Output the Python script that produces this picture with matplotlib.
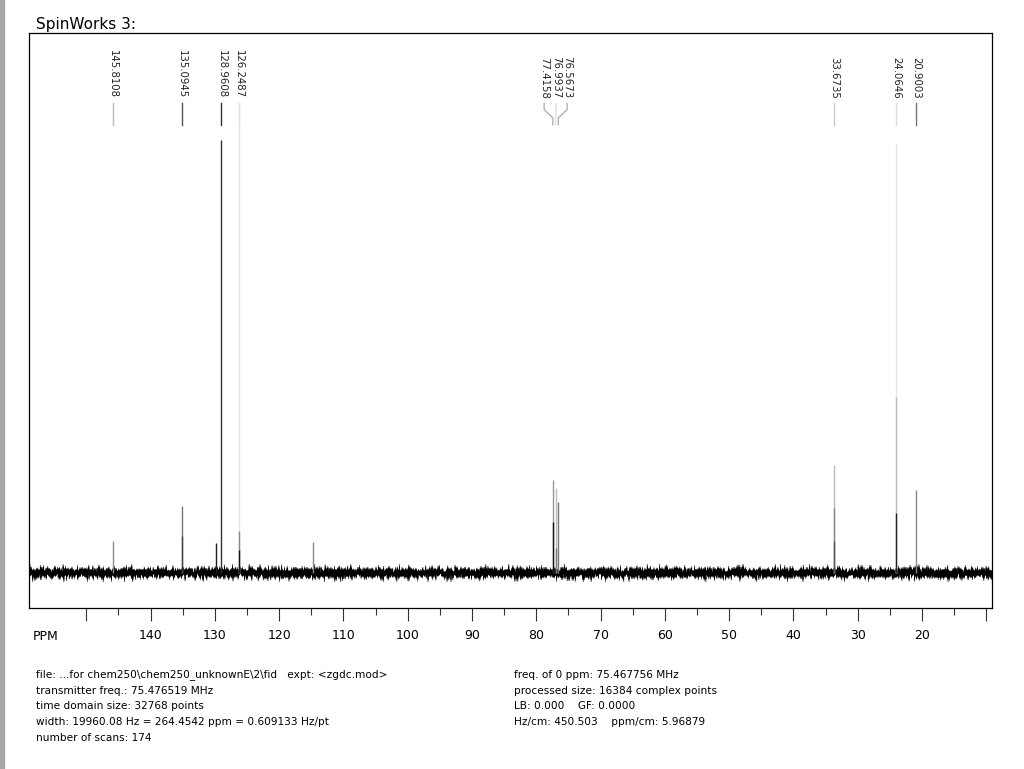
import numpy as np
import matplotlib
matplotlib.use("Agg")
import matplotlib.pyplot as plt
from matplotlib.patches import Rectangle

# peak positions (ppm) and heights (arbitrary intensity, tallest ~100)
peak_ppm = [145.81, 135.09, 129.80, 128.96, 126.25, 114.70,
            77.42, 76.99, 76.57, 33.67, 24.06, 20.90]
peak_height = [7.4, 15.5, 6.9, 100.0, 108.5, 7.2,
               21.5, 19.6, 16.4, 24.9, 99.3, 19.2]

# labelled peaks (text shown at top of the plot)
label_text = ["145.8108", "135.0945", "128.9608", "126.2487",
              "77.4158", "76.9937", "76.5673",
              "33.6735", "24.0646", "20.9003"]
label_ppm = [145.8108, 135.0945, 128.9608, 126.2487,
             77.4158, 76.9937, 76.5673,
             33.6735, 24.0646, 20.9003]
# where the text sits (the triplet is spread apart)
label_text_ppm = [145.8108, 135.0945, 128.9608, 126.2487,
                  78.77, 76.90, 75.19,
                  33.6735, 24.0646, 20.9003]

major_ticks = list(range(10, 151, 10))
minor_ticks = list(range(15, 146, 10))
tick_labels = ["" if t in (10, 150) else str(t) for t in major_ticks]

footer_left = ["file: ...for chem250\\chem250_unknownE\\2\\fid   expt: <zgdc.mod>",
               "transmitter freq.: 75.476519 MHz",
               "time domain size: 32768 points",
               "width: 19960.08 Hz = 264.4542 ppm = 0.609133 Hz/pt",
               "number of scans: 174"]
footer_right = ["freq. of 0 ppm: 75.467756 MHz",
                "processed size: 16384 complex points",
                "LB: 0.000    GF: 0.0000",
                "Hz/cm: 450.503    ppm/cm: 5.96879"]

# shading of each peak line: (height fraction, colour) drawn tallest first
peak_shade = {
    145.81: [(1.0, "#8a8a8a")],
    135.09: [(1.0, "#777777"), (0.55, "#444444")],
    129.80: [(1.0, "#222222")],
    128.96: [(1.0, "#333333")],
    126.25: [(1.0, "#e4e4e4"), (0.09, "#888888"), (0.05, "#111111")],
    114.70: [(1.0, "#8a8a8a")],
    77.42: [(1.0, "#999999"), (0.55, "#111111")],
    76.99: [(1.0, "#bdbdbd"), (0.3, "#777777")],
    76.57: [(1.0, "#777777")],
    33.67: [(1.0, "#bbbbbb"), (0.6, "#888888"), (0.3, "#555555")],
    24.06: [(1.0, "#e6e6e6"), (0.41, "#bbbbbb"), (0.14, "#222222")],
    20.90: [(1.0, "#888888")],
}
label_line_color = ["#bbbbbb", "#555555", "#333333", "#e4e4e4",
                    "#aaaaaa", "#dddddd", "#aaaaaa",
                    "#cccccc", "#dddddd", "#777777"]

xmin, xmax = 158.9, 9.1
W, H = 1024, 769

fig = plt.figure(figsize=(W / 100, H / 100), dpi=100)
fig.patches.append(Rectangle((0, 0), 4 / W, 1, transform=fig.transFigure,
                             color="#a6a6a6", zorder=0))
ax = fig.add_axes([29 / W, 1 - 608 / H, 963 / W, 575 / H])

# baseline noise texture of the spectrum
rng = np.random.default_rng(3)
grid = np.linspace(xmin, xmax, 9300)
noise = np.clip(rng.normal(0, 0.7, grid.size), -2.0, 2.0)
ax.plot(grid, noise, color="#666666", lw=0.5, zorder=2)
ax.plot(grid, noise * 0.75, color="black", lw=0.5, zorder=2)

for p, h in zip(peak_ppm, peak_height):
    for frac, c in peak_shade[p]:
        ax.vlines(p, 0, h * frac, color=c, lw=1.0, zorder=3)

# peak labels
for txt, p, tp, lc in zip(label_text, label_ppm, label_text_ppm, label_line_color):
    ax.text(tp, 109.6, txt, rotation=-90, ha="center", va="bottom",
            fontsize=7.3, color="#222222", zorder=4)
    if tp == p:
        ax.plot([p, p], [108.6, 103.5], color=lc, lw=1.0, zorder=3)
    else:
        ax.plot([tp, tp, p, p], [108.4, 107.0, 105.1, 103.5],
                color=lc, lw=0.9, zorder=3)

ax.set_xlim(xmin, xmax)
ax.set_ylim(-8.08, 124.7)
ax.set_yticks([])
ax.set_xticks(major_ticks)
ax.set_xticklabels(tick_labels, fontsize=9)
ax.set_xticks(minor_ticks, minor=True)
ax.tick_params(axis="x", which="major", direction="out", length=9.4,
               width=0.8, color="#333333", pad=6)
ax.tick_params(axis="x", which="minor", direction="out", length=5,
               width=0.8, color="#333333")
for s in ax.spines.values():
    s.set_linewidth(0.9)
    s.set_color("black")

fig.text(33 / W, 1 - 636 / H, "PPM", fontsize=9, va="center", ha="left")
fig.text(36 / W, 1 - 24 / H, "SpinWorks 3:", fontsize=11, va="center", ha="left")

ys = [675, 691, 706, 722, 738]
for t, y in zip(footer_left, ys):
    fig.text(36 / W, 1 - y / H, t, fontsize=7.55, va="center", ha="left")
for t, y in zip(footer_right, ys):
    fig.text(514 / W, 1 - y / H, t, fontsize=7.55, va="center", ha="left")

fig.savefig("out.png", dpi=100)
